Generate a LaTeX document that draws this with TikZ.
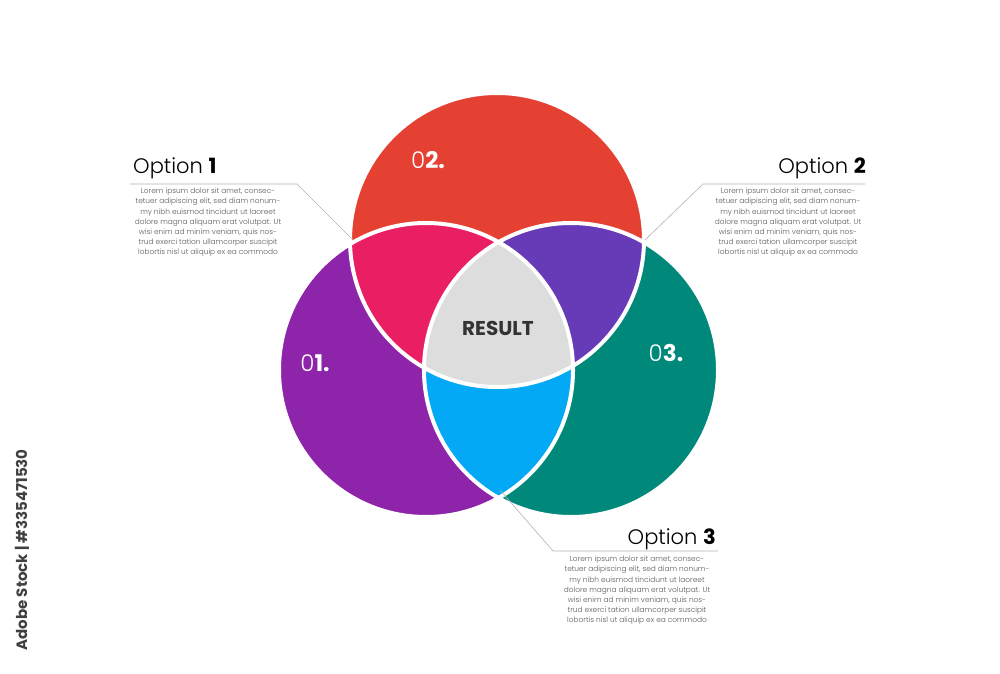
\documentclass[tikz,border=0pt]{standalone}
\usepackage{fontspec}
\setmainfont{Poppins}
\newfontfamily\lightf{Poppins Light}
\begin{document}
\begin{tikzpicture}[x=1pt,y=1pt,
  body/.style={align=center,font=\lightf\fontsize{7.4}{10.2}\selectfont,text=black!65,inner sep=0pt,anchor=north},
  ttl/.style={font=\fontsize{21}{24}\selectfont,inner sep=0pt,anchor=base},
  num/.style={text=white,font=\fontsize{23}{26}\selectfont,inner sep=0pt,anchor=base},
  lead/.style={draw=black!30,line width=0.6pt}]
\useasboundingbox (0,0) rectangle (1000,673);
\definecolor{cred}{HTML}{E54133}
\definecolor{cpur}{HTML}{8E24AA}
\definecolor{cteal}{HTML}{00897B}
\definecolor{cpink}{HTML}{E91E63}
\definecolor{cviol}{HTML}{673AB7}
\definecolor{cblue}{HTML}{03A9F4}
\definecolor{cgrey}{HTML}{DDDDDD}
\coordinate (T) at (497,433);
\coordinate (L) at (426,303);
\coordinate (R) at (571,303);
\fill[cred] (T) circle (147);
\fill[cpur] (L) circle (147);
\fill[cteal] (R) circle (147);
\begin{scope}\clip (T) circle (147); \fill[cpink] (L) circle (147); \end{scope}
\begin{scope}\clip (T) circle (147); \fill[cviol] (R) circle (147); \end{scope}
\begin{scope}\clip (L) circle (147); \fill[cblue] (R) circle (147); \end{scope}
\begin{scope}\clip (T) circle (147); \clip (L) circle (147); \fill[cgrey] (R) circle (147); \end{scope}
\draw[white,line width=4pt] (T) circle (147) (L) circle (147) (R) circle (147);
\node[num] (n1) at (315,302) {{\lightf 0}\textbf{1.}};
\node[num] (n2) at (428,504) {{\lightf 0}\textbf{2.}};
\node[num] (n3) at (666,312) {{\lightf 0}\textbf{3.}};
\node[font=\fontsize{20}{22}\selectfont\bfseries,text=black!80] (res) at (498,345) {RESULT};
% leaders
\coordinate (c1) at (353,433);
\coordinate (c2) at (645,433);
\coordinate (c3) at (500,183);
\draw[lead] (130,489) -- (297,489) -- (c1);
\draw[lead] (865,489) -- (703,489) -- (c2);
\draw[lead] (c3) -- (553,122) -- (718,122);
\node[ttl,anchor=base west] (o1) at (133,499) {{\lightf Option} \textbf{1}};
\node[ttl,anchor=base east] (o2) at (866,499) {{\lightf Option} \textbf{2}};
\node[ttl,anchor=base east] (o3) at (716,129) {{\lightf Option} \textbf{3}};
\def\lorem{Lorem ipsum dolor sit amet, consec-\\tetuer adipiscing elit, sed diam nonum-\\my nibh euismod tincidunt ut laoreet\\dolore magna aliquam erat volutpat. Ut\\wisi enim ad minim veniam, quis nos-\\trud exerci tation ullamcorper suscipit\\lobortis nisl ut aliquip ex ea commodo}
\node[body] (p1) at (208,485) {\lorem};
\node[body] (p2) at (788,485) {\lorem};
\node[body] (p3) at (637,117) {\lorem};
\node[rotate=90,font=\fontsize{15}{17}\selectfont\bfseries,text=black!75] (wm) at (22,123) {Adobe Stock | \#335471530};
\end{tikzpicture}
\end{document}
